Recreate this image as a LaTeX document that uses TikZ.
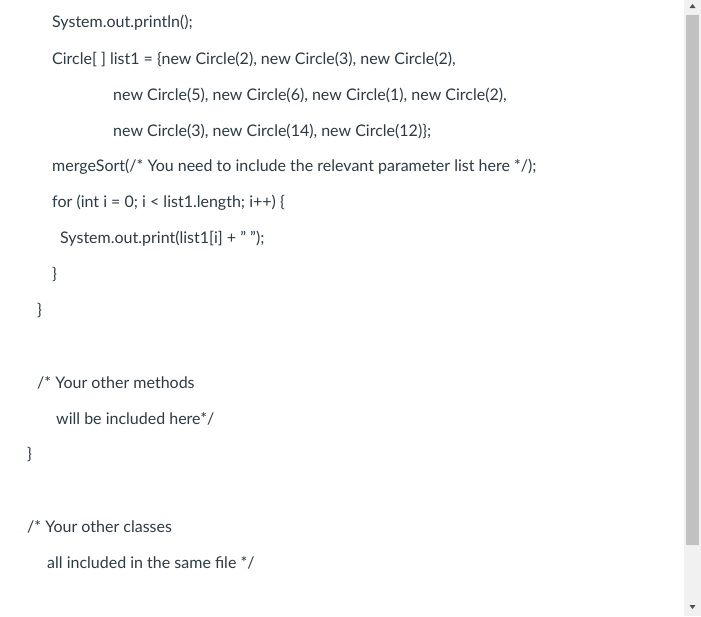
\documentclass[tikz,border=0pt]{standalone}
\usepackage{fontspec}
\setmainfont{Lato}
\definecolor{txt}{HTML}{2D3B45}
\definecolor{track}{HTML}{F1F1F1}
\definecolor{thumb}{HTML}{C1C1C1}
\definecolor{arr}{HTML}{505050}
\begin{document}
\begin{tikzpicture}[x=1pt,y=-1pt,
  code/.style={anchor=west,inner sep=0pt,text=txt,font=\fontsize{16}{18}\selectfont}]
\useasboundingbox (0,0) rectangle (701,616);
\fill[white] (0,0) rectangle (701,616);
\fill[track] (684,0) rectangle (701,616);
\fill[thumb] (686,15) rectangle (699,545);
\fill[arr] (689.5,8) -- (695.5,8) -- (692.5,4) -- cycle;
\fill[arr] (689.5,605) -- (695.5,605) -- (692.5,609) -- cycle;
\node[code] (l1) at (52,23) {System.out.println();};
\node[code] (l2) at (52,59) {Circle[ ] list1 = \{new Circle(2), new Circle(3), new Circle(2),};
\node[code] (l3) at (113,95) {new Circle(5), new Circle(6), new Circle(1), new Circle(2),};
\node[code] (l4) at (113,131) {new Circle(3), new Circle(14), new Circle(12)\};};
\node[code] (l5) at (52,167) {mergeSort(/* You need to include the relevant parameter list here */);};
\node[code] (l6) at (52,203) {for (int i = 0; i < list1.length; i++) \{};
\node[code] (l7) at (60,239) {System.out.print(list1[i] + \symbol{34} \symbol{34});};
\node[code] (l8) at (52,275) {\}};
\node[code] (l9) at (37,311) {\}};
\node[code] (l10) at (37,383) {/* Your other methods};
\node[code] (l11) at (56,419) {will be included here*/};
\node[code] (l12) at (27,455) {\}};
\node[code] (l13) at (27,527) {/* Your other classes};
\node[code] (l14) at (47,563) {all included in the same file */};
\end{tikzpicture}
\end{document}
